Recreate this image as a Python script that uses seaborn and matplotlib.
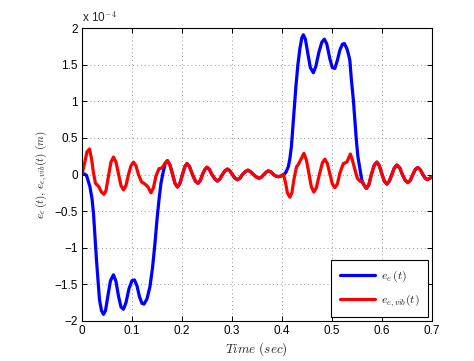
import matplotlib
matplotlib.use("Agg")
import pandas as pd
import matplotlib.pyplot as plt
import seaborn as sns
from matplotlib.ticker import FuncFormatter, MultipleLocator

# residual vibration e_vib(t), values in units of 1e-4 m
t_vib = [0.000, 0.005, 0.010, 0.015, 0.019, 0.023, 0.027, 0.033, 0.039, 0.044,
         0.048, 0.053, 0.058, 0.063, 0.068, 0.073, 0.078, 0.083, 0.088, 0.093,
         0.098, 0.103, 0.108, 0.113, 0.119, 0.126, 0.132, 0.138, 0.143, 0.148,
         0.154, 0.160, 0.166, 0.171, 0.176, 0.181, 0.186, 0.191, 0.196, 0.201,
         0.206, 0.210, 0.215, 0.221, 0.227, 0.232, 0.237, 0.241, 0.246, 0.250,
         0.255, 0.260, 0.266, 0.271, 0.276, 0.281, 0.286, 0.291, 0.296, 0.301,
         0.306, 0.311, 0.316, 0.321, 0.327, 0.332, 0.337, 0.343, 0.349, 0.354,
         0.359, 0.364, 0.369, 0.373, 0.378, 0.383, 0.388, 0.393, 0.398, 0.403,
         0.407, 0.411, 0.416, 0.420, 0.424, 0.429, 0.433, 0.439, 0.444, 0.449,
         0.454, 0.459, 0.464, 0.469, 0.475, 0.481, 0.486, 0.491, 0.496, 0.501,
         0.506, 0.511, 0.516, 0.523, 0.530, 0.537, 0.541, 0.546, 0.551, 0.556,
         0.561, 0.565, 0.569, 0.574, 0.579, 0.585, 0.590, 0.595, 0.600, 0.605,
         0.610, 0.615, 0.620, 0.625, 0.630, 0.636, 0.641, 0.647, 0.652, 0.657,
         0.662, 0.667, 0.672, 0.677, 0.682, 0.687, 0.691, 0.696, 0.700]
e_vib = [0.00, 0.15, 0.31, 0.35, 0.22, 0.02, -0.12, -0.16, -0.24, -0.27,
         -0.22, -0.02, 0.17, 0.24, 0.17, 0.01, -0.15, -0.21, -0.15, 0.00,
         0.12, 0.17, 0.12, 0.00, -0.10, -0.13, -0.17, -0.25, -0.18, -0.02,
         0.08, 0.09, 0.15, 0.19, 0.13, 0.01, -0.12, -0.17, -0.12, 0.00,
         0.11, 0.15, 0.11, 0.00, -0.09, -0.12, -0.08, 0.00, 0.07, 0.10,
         0.07, 0.00, -0.06, -0.09, -0.06, 0.00, 0.05, 0.075, 0.05, 0.00,
         -0.05, -0.07, -0.05, 0.00, 0.04, 0.06, 0.04, 0.00, -0.035, -0.05,
         -0.035, 0.00, 0.035, 0.05, 0.035, 0.00, -0.02, -0.03, -0.02, 0.00,
         -0.10, -0.25, -0.31, -0.25, -0.07, 0.10, 0.14, 0.22, 0.29, 0.20,
         0.02, -0.17, -0.24, -0.18, 0.00, 0.16, 0.21, 0.15, 0.01, -0.13,
         -0.18, -0.13, 0.02, 0.15, 0.17, 0.28, 0.20, 0.07, -0.05, -0.09,
         -0.10, -0.15, -0.19, -0.14, 0.00, 0.13, 0.17, 0.12, 0.01, -0.09,
         -0.13, -0.09, 0.00, 0.09, 0.13, 0.09, 0.00, -0.08, -0.11, -0.08,
         0.00, 0.07, 0.095, 0.065, 0.00, -0.05, -0.07, -0.05, -0.03]

# total error e_e(t) during the two moves
t_move1 = [0.000, 0.004, 0.009, 0.016, 0.020, 0.023, 0.026, 0.029, 0.032, 0.035,
           0.039, 0.043, 0.047, 0.052, 0.057, 0.063, 0.068, 0.073, 0.078, 0.083,
           0.088, 0.094, 0.100, 0.105, 0.110, 0.115, 0.120, 0.124, 0.130, 0.136,
           0.141, 0.146, 0.150, 0.154, 0.158, 0.162, 0.165]
e_move1 = [0.00, 0.01, -0.01, -0.17, -0.33, -0.53, -0.85, -1.17, -1.45, -1.71,
           -1.86, -1.91, -1.86, -1.65, -1.45, -1.37, -1.46, -1.66, -1.81, -1.84,
           -1.75, -1.56, -1.45, -1.44, -1.52, -1.67, -1.76, -1.77, -1.70, -1.53,
           -1.28, -0.94, -0.62, -0.35, -0.12, 0.02, 0.10]
t_move2 = [0.404, 0.408, 0.413, 0.416, 0.419, 0.423, 0.428, 0.432, 0.436, 0.440,
           0.443, 0.447, 0.452, 0.457, 0.463, 0.468, 0.474, 0.480, 0.485, 0.490,
           0.496, 0.501, 0.506, 0.511, 0.516, 0.521, 0.525, 0.530, 0.533, 0.536,
           0.539, 0.543, 0.546, 0.549, 0.552, 0.556, 0.559, 0.5605]
e_move2 = [0.00, 0.03, 0.11, 0.22, 0.38, 0.74, 1.20, 1.50, 1.72, 1.87,
           1.91, 1.85, 1.65, 1.46, 1.39, 1.48, 1.67, 1.81, 1.85, 1.78,
           1.58, 1.46, 1.45, 1.56, 1.70, 1.78, 1.79, 1.72, 1.65, 1.56,
           1.30, 1.02, 0.74, 0.47, 0.25, 0.08, -0.04, -0.10]

sns.set_style("ticks")
plt.rcParams['font.family'] = ['Liberation Sans', 'DejaVu Sans']
plt.rcParams['mathtext.fontset'] = 'cm'

vib = pd.DataFrame({'t': t_vib, 'e': e_vib})
# when the axis is at rest the error is just the residual vibration
rest1 = vib[(vib.t > t_move1[-1]) & (vib.t < t_move2[0])]
rest2 = vib[vib.t > t_move2[-1]]
err = pd.concat([pd.DataFrame({'t': t_move1, 'e': e_move1}), rest1,
                 pd.DataFrame({'t': t_move2, 'e': e_move2}), rest2])

fig = plt.figure(figsize=(4.74, 3.61), dpi=100)
ax = fig.add_axes([0.173, 0.111, 0.738, 0.811])

sns.lineplot(data=err, x='t', y='e', color='#0000ff', lw=2.3, label=r'$e_e\,(t)$', ax=ax)
sns.lineplot(data=vib, x='t', y='e', color='#ff0000', lw=2.3, label=r'$e_{e,vib}(t)$', ax=ax)

ax.set_xlim(0, 0.7)
ax.set_ylim(-2, 2)
ax.xaxis.set_major_locator(MultipleLocator(0.1))
ax.yaxis.set_major_locator(MultipleLocator(0.5))
fmt = FuncFormatter(lambda v, p: f"{v:g}".replace('-', '\u2212'))
ax.xaxis.set_major_formatter(fmt)
ax.yaxis.set_major_formatter(fmt)
ax.tick_params(direction='in', top=True, right=True, length=3.5, width=0.7,
               labelsize=8.5, colors='black', pad=3)
ax.grid(True, linestyle=(0, (1, 3)), color='#999999', linewidth=0.7)
for s in ax.spines.values():
    s.set_linewidth(0.8)
    s.set_color('black')

ax.set_xlabel(r'$Time\ (sec)$', fontsize=9.5, labelpad=2)
ax.set_ylabel(r'$e_e\,(t),\,e_{e,vib}(t)\ (m)$', fontsize=8, labelpad=3)
ax.text(0.0, 1.012, r'x 10$^{-4}$', transform=ax.transAxes, fontsize=8.5,
        ha='left', va='bottom')

leg = ax.legend(loc='lower right', fontsize=8.5, fancybox=False, framealpha=1,
                edgecolor='black', borderaxespad=0.35, borderpad=0.7,
                labelspacing=0.7, handlelength=3.0, handletextpad=0.5)
leg.get_frame().set_linewidth(0.8)

fig.savefig('out.png', dpi=100)
